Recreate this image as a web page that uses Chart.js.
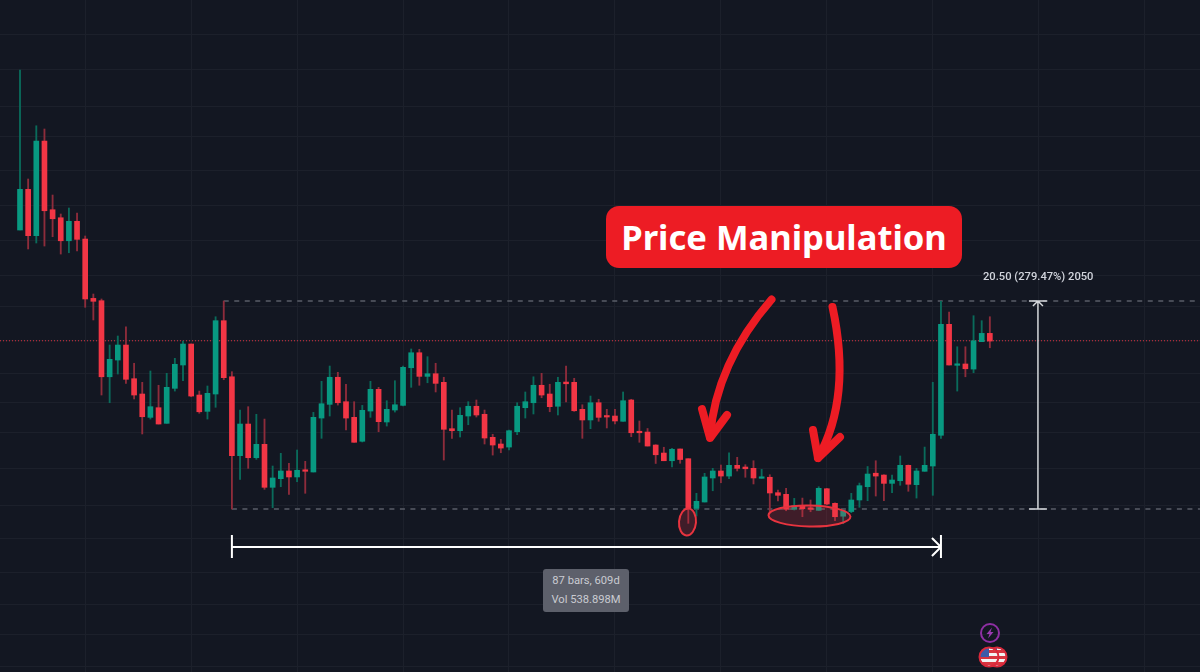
<!DOCTYPE html>
<html lang="en">
<head>
  <meta charset="UTF-8">
  <title>Price Manipulation</title>
  <script src="https://cdn.jsdelivr.net/npm/chart.js@4"></script>
  <style>
    html, body { margin: 0; padding: 0; background: #131722; overflow: hidden; }
    #wrap { position: relative; width: 1200px; height: 672px; }
    canvas { display: block; }
    .note { position: absolute; white-space: nowrap; }
    #title {
      left: 606px; top: 206px; width: 356px; height: 62px; line-height: 62px;
      background: #ed1c24; border-radius: 13px; color: #fff; text-align: center;
      font: 700 34.6px/62px "Noto Sans", sans-serif;
    }
    #range {
      left: 983px; top: 270px; color: #d1d4dc;
      font: 500 11.2px/14px Roboto, sans-serif;
    }
    #bars {
      left: 543px; top: 569px; width: 86px; height: 43px; border-radius: 3px;
      background: #5d606b; color: #c9cbd1; text-align: center;
      font: 400 11.2px/19px Roboto, sans-serif; padding-top: 2px; box-sizing: border-box;
    }
  </style>
</head>
<body>
  <div id="wrap">
    <canvas id="priceChart" width="1200" height="672"></canvas>
    <div class="note" id="title">Price Manipulation</div>
    <div class="note" id="range">20.50 (279.47%) 2050</div>
    <div class="note" id="bars">87 bars, 609d<br>Vol 538.898M</div>
  </div>

  <script>
    const opens = [34.84, 38.85, 34.28, 43.61, 36.84, 36.05, 33.78, 35.70, 33.95, 28.10,
      27.87, 20.37, 22.02, 23.50, 20.18, 18.67, 16.37, 17.32, 15.78, 19.23,
      21.53, 23.60, 18.57, 16.96, 18.67, 25.90, 20.37, 12.59, 15.71, 12.39,
      13.71, 9.47, 10.32, 11.08, 10.49, 11.18, 10.98, 16.30, 17.65, 20.32,
      17.91, 16.37, 14.01, 16.99, 19.13, 15.91, 17.09, 17.55, 21.26, 22.74,
      20.41, 20.67, 19.82, 15.25, 15.05, 16.50, 17.46, 16.67, 14.40, 13.74,
      13.44, 14.95, 17.32, 17.81, 19.53, 18.67, 17.46, 19.85, 19.82, 17.16,
      16.11, 17.81, 16.50, 16.50, 15.98, 18.08, 14.99, 14.92, 13.64, 12.85,
      12.09, 13.25, 12.29, 7.40, 8.02, 10.39, 11.08, 10.58, 11.64, 11.47,
      11.34, 10.36, 10.46, 8.94, 8.78, 7.30, 7.66, 7.43, 7.20, 9.33,
      7.89, 6.62, 7.08, 8.22, 9.53, 10.86, 10.68, 9.86, 10.12, 11.64,
      9.73, 11.05, 11.57, 14.60, 25.54, 21.50, 21.63, 21.13, 23.83, 24.65];
    const closes = [38.85, 34.28, 43.61, 36.74, 35.95, 33.78, 35.70, 33.92, 28.04, 27.81,
      20.37, 22.09, 23.50, 20.12, 18.57, 16.43, 17.42, 15.71, 19.33, 21.60,
      23.60, 18.47, 16.92, 18.74, 25.90, 20.28, 12.59, 15.71, 12.39, 13.71,
      9.47, 10.39, 11.08, 10.49, 11.15, 11.05, 16.37, 17.71, 20.32, 17.81,
      16.30, 13.91, 17.06, 19.13, 15.94, 17.16, 17.61, 21.30, 22.74, 20.41,
      20.67, 19.72, 15.19, 15.05, 16.57, 17.46, 16.60, 14.33, 13.64, 13.34,
      15.05, 17.46, 17.91, 19.53, 18.57, 17.42, 19.82, 19.68, 17.02, 16.11,
      17.81, 16.37, 16.40, 16.01, 18.01, 14.85, 14.85, 13.54, 12.68, 12.09,
      13.22, 12.21, 7.40, 8.09, 10.49, 11.08, 10.58, 11.64, 11.34, 11.30,
      10.39, 10.49, 8.91, 8.68, 7.30, 7.66, 7.36, 7.30, 9.37, 7.82,
      6.57, 7.15, 8.22, 9.63, 10.78, 10.58, 9.86, 10.19, 11.64, 9.77,
      11.08, 11.64, 14.70, 25.54, 21.53, 21.60, 21.16, 23.92, 24.65, 23.89];
    const highs = [50.62, 39.87, 45.12, 44.80, 38.29, 36.42, 37.01, 36.52, 34.25, 28.53,
      28.04, 23.50, 24.39, 25.30, 21.70, 19.82, 20.94, 19.53, 20.71, 22.19,
      23.89, 23.60, 18.96, 19.46, 26.29, 27.84, 20.87, 17.09, 17.42, 16.67,
      16.20, 11.57, 12.82, 11.84, 13.15, 12.03, 16.86, 19.92, 21.43, 20.81,
      19.63, 17.91, 17.55, 19.92, 19.33, 18.01, 19.98, 21.43, 23.11, 23.08,
      22.35, 21.70, 20.32, 17.09, 17.32, 17.91, 18.08, 17.09, 14.70, 14.20,
      15.12, 17.81, 18.87, 20.37, 20.71, 19.63, 20.32, 21.43, 20.22, 17.61,
      18.47, 18.15, 17.16, 17.16, 18.87, 18.15, 16.01, 15.27, 13.67, 13.42,
      13.31, 13.25, 12.29, 8.88, 10.85, 11.34, 11.67, 12.88, 12.43, 11.70,
      12.09, 11.24, 10.71, 9.20, 9.37, 8.38, 8.41, 8.22, 9.53, 9.37,
      7.95, 7.30, 8.88, 9.89, 11.52, 12.09, 10.71, 10.68, 12.56, 11.67,
      11.34, 13.44, 19.82, 27.81, 26.75, 23.33, 23.33, 26.39, 25.90, 26.29];
    const lows = [34.84, 32.97, 33.56, 33.26, 34.18, 32.47, 32.60, 32.77, 27.22, 25.97,
      18.57, 17.81, 20.64, 19.72, 18.18, 14.73, 16.20, 15.71, 15.78, 18.96,
      19.98, 18.40, 16.77, 16.20, 17.36, 20.08, 7.33, 10.26, 11.34, 12.23,
      9.27, 7.46, 9.53, 8.78, 10.02, 8.88, 10.98, 14.30, 16.50, 17.58,
      15.12, 13.91, 13.94, 16.37, 14.95, 15.51, 16.89, 17.49, 19.33, 19.53,
      19.78, 18.87, 12.16, 14.30, 14.43, 15.64, 16.40, 13.74, 12.65, 12.88,
      13.15, 14.66, 16.30, 16.70, 18.30, 16.92, 16.60, 17.88, 16.96, 14.30,
      15.25, 15.98, 15.32, 15.71, 15.98, 14.46, 13.91, 13.54, 11.82, 12.09,
      11.47, 11.84, 5.92, 6.64, 8.02, 9.13, 9.92, 10.32, 11.08, 10.46,
      9.80, 10.36, 6.91, 8.12, 7.16, 7.23, 6.57, 7.06, 7.20, 7.75,
      6.18, 5.88, 6.97, 7.50, 8.15, 8.61, 8.15, 8.94, 9.67, 9.08,
      8.41, 11.05, 8.68, 14.30, 21.53, 18.96, 20.37, 20.77, 23.83, 23.23];

    // grid levels and vertical grid bars of the price pane
    const priceGrid = [54.07, 50.62, 46.97, 44.11, 40.66, 37.21, 33.85, 30.40, 27.25, 23.99,
      20.74, 17.88, 14.92, 11.37, 7.72, 4.47, 1.12, -2.04, -5.00, -8.15];
    const barGrid = [8, 21, 34, 47, 60, 73, 86, 99, 112, 125, 138];

    const rangeHigh = 27.84, rangeLow = 7.33, lastPrice = 23.92;
    const rangeStartBar = 26, rangeEndBar = 113, peakBar = 25, measureBar = 124.9;
    const measurePrice = 3.58;

    const RED = '#f23645', GREEN = '#089981';
    const RED_WICK = '#8e2c3b', GREEN_WICK = '#0a6b5b';
    const isUp = i => closes[i] >= opens[i];

    // hand drawn notes and the measuring tools on top of the candles
    const notes = {
      id: 'notes',
      afterDatasetsDraw(chart) {
        const c = chart.ctx, x = chart.scales.x, y = chart.scales.y;
        c.save();
        c.lineCap = 'round';
        c.lineJoin = 'round';

        // circles around the wicks
        c.strokeStyle = '#e8343f';
        c.fillStyle = 'rgba(242,54,69,0.2)';
        c.lineWidth = 2;
        c.beginPath();
        c.ellipse(687.5, 522, 8.5, 13.5, 0.08, 0, Math.PI * 2);
        c.fill(); c.stroke();
        c.beginPath();
        c.ellipse(809.5, 516, 41, 10.5, 0.02, 0, Math.PI * 2);
        c.fill(); c.stroke();

        // red arrows
        c.strokeStyle = '#ed1c24';
        c.lineWidth = 8;
        c.beginPath();
        c.moveTo(771.5, 299.5);
        c.bezierCurveTo(745, 330, 715, 375, 710, 437);
        c.stroke();
        c.beginPath();
        c.moveTo(702, 409); c.lineTo(710, 438); c.lineTo(727, 415);
        c.stroke();
        c.beginPath();
        c.moveTo(832.5, 307);
        c.bezierCurveTo(845, 365, 842, 415, 818, 458);
        c.stroke();
        c.beginPath();
        c.moveTo(813, 430); c.lineTo(818, 458); c.lineTo(840, 437);
        c.stroke();

        // price measure
        const top = y.getPixelForValue(rangeHigh), bot = y.getPixelForValue(rangeLow);
        const mx = x.getPixelForValue(measureBar);
        c.strokeStyle = '#d4d6da';
        c.lineWidth = 1.5;
        c.lineCap = 'butt';
        c.beginPath();
        c.moveTo(mx, top); c.lineTo(mx, bot);
        c.moveTo(mx - 9, top); c.lineTo(mx + 9, top);
        c.moveTo(mx - 9, bot); c.lineTo(mx + 9, bot);
        c.moveTo(mx - 5, top + 5); c.lineTo(mx, top); c.lineTo(mx + 5, top + 5);
        c.stroke();

        // date measure
        const x0 = x.getPixelForValue(rangeStartBar), x1 = x.getPixelForValue(rangeEndBar);
        const my = y.getPixelForValue(measurePrice);
        c.strokeStyle = '#ffffff';
        c.lineWidth = 2;
        c.beginPath();
        c.moveTo(x0, my); c.lineTo(x1, my);
        c.moveTo(x0, my - 12); c.lineTo(x0, my + 11);
        c.moveTo(x1, my - 12); c.lineTo(x1, my + 11);
        c.moveTo(x1 - 9, my - 9); c.lineTo(x1, my); c.lineTo(x1 - 9, my + 9);
        c.stroke();

        // event icons under the last bars
        c.strokeStyle = '#8e2fa3';
        c.lineWidth = 2;
        c.beginPath();
        c.arc(990, 633, 9, 0, Math.PI * 2);
        c.stroke();
        c.fillStyle = '#9c3ab3';
        c.beginPath();
        c.moveTo(992, 627.5); c.lineTo(986.5, 634); c.lineTo(989.5, 634);
        c.lineTo(988, 638.5); c.lineTo(993.5, 632); c.lineTo(990.5, 632);
        c.closePath();
        c.fill();
        [997, 989].forEach(cx => {
          c.save();
          c.beginPath();
          c.arc(cx, 657, 9, 0, Math.PI * 2);
          c.fillStyle = '#f2f2f2';
          c.fill();
          c.clip();
          c.fillStyle = '#d8343f';
          for (let i = 0; i < 3; i++) c.fillRect(cx - 10, 650 + i * 6, 20, 3);
          c.fillStyle = '#3d5aa8';
          c.fillRect(cx - 10, 647, 10, 10);
          c.restore();
          c.strokeStyle = '#d9283a';
          c.lineWidth = 2;
          c.beginPath();
          c.arc(cx, 657, 9.5, 0, Math.PI * 2);
          c.stroke();
        });
        c.restore();
      }
    };

    const xMin = -20 / 8.15, xMax = 1180 / 8.15;
    const barIndex = opens.map((_, i) => i);

    new Chart(document.getElementById('priceChart').getContext('2d'), {
      data: {
        datasets: [
          {
            type: 'line', order: 3, borderColor: '#5a5d68', borderWidth: 1.3, borderDash: [5, 5.5],
            pointRadius: 0, data: [{ x: peakBar, y: rangeHigh }, { x: xMax, y: rangeHigh }]
          },
          {
            type: 'line', order: 3, borderColor: '#5a5d68', borderWidth: 1.3, borderDash: [5, 5.5],
            pointRadius: 0, data: [{ x: rangeStartBar, y: rangeLow }, { x: xMax, y: rangeLow }]
          },
          {
            type: 'line', order: 3, borderColor: '#dc3242', borderWidth: 1, borderDash: [1, 2],
            pointRadius: 0, data: [{ x: xMin, y: lastPrice }, { x: xMax, y: lastPrice }]
          },
          {
            type: 'bar', order: 2, grouped: false, barThickness: 1.2,
            backgroundColor: barIndex.map(i => isUp(i) ? GREEN_WICK : RED_WICK),
            data: barIndex.map(i => ({ x: i, y: [lows[i], highs[i]] }))
          },
          {
            type: 'bar', order: 1, grouped: false, barThickness: 5, minBarLength: 1.5,
            backgroundColor: barIndex.map(i => isUp(i) ? GREEN : RED),
            data: barIndex.map(i => ({ x: i, y: [opens[i], closes[i]] }))
          }
        ]
      },
      options: {
        responsive: false,
        animation: false,
        layout: { padding: 0 },
        plugins: { legend: { display: false }, tooltip: { enabled: false } },
        scales: {
          x: {
            type: 'linear', min: xMin, max: xMax, offset: false,
            ticks: { display: false },
            border: { display: false },
            grid: { color: '#1c202b', lineWidth: 1, drawTicks: false, offset: false },
            afterBuildTicks: s => { s.ticks = barGrid.map(v => ({ value: v })); }
          },
          y: {
            type: 'linear', min: -8.74, max: 57.52,
            ticks: { display: false },
            border: { display: false },
            grid: { color: '#1c202b', lineWidth: 1, drawTicks: false },
            afterBuildTicks: s => { s.ticks = priceGrid.map(v => ({ value: v })); }
          }
        }
      },
      plugins: [notes]
    });
  </script>
</body>
</html>
